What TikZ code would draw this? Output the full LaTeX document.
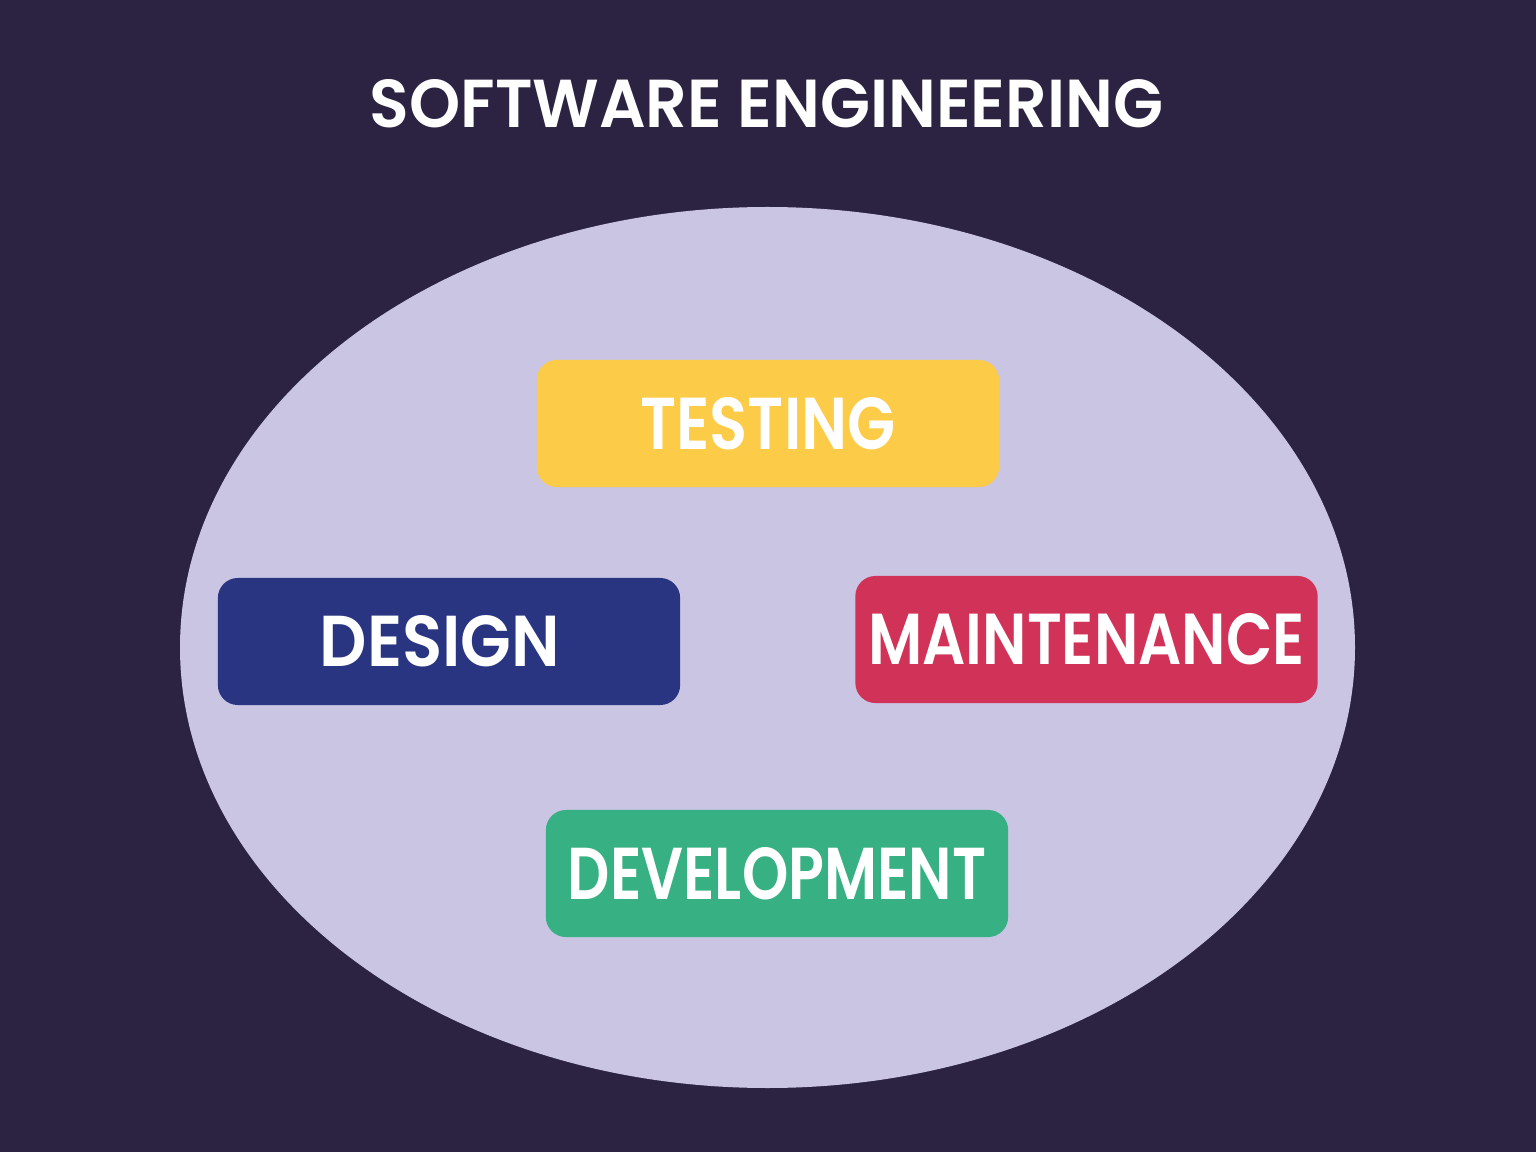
\documentclass[tikz,border=0pt]{standalone}
\usepackage{fontspec}
\setsansfont{Poppins}[BoldFont={Poppins SemiBold}]
\usepackage{graphicx}
\usepackage{tikz}
\usepackage{xcolor}

\definecolor{nightbg}{HTML}{2C2342}
\definecolor{lilac}{HTML}{C9C5E3}
\definecolor{testyellow}{HTML}{FCCB48}
\definecolor{designblue}{HTML}{293580}
\definecolor{maintred}{HTML}{D13257}
\definecolor{devgreen}{HTML}{37B083}

% squeeze a caps label into a given width and cap height
\newcommand{\capsfit}[3]{\resizebox{#1}{#2}{\sffamily\bfseries #3}}

\begin{document}
\begin{tikzpicture}[
            x=0.01cm, y=-0.01cm,
            phase/.style={rounded corners=0.2cm, minimum width=4.62cm,
                minimum height=1.27cm, inner sep=0pt, text=white},
        ]
            \fill[nightbg] (0,0) rectangle (1536,1152);
            \fill[lilac] (767.5,647.5) ellipse [x radius=587.5, y radius=440.5];

            \node[text=white, inner sep=0pt] (title) at (766.5,104)
                {\capsfit{7.93cm}{0.48cm}{SOFTWARE ENGINEERING}};

            \node[phase, fill=testyellow] (testing) at (768,423.5)
                {\capsfit{2.55cm}{0.52cm}{TESTING}};
            \node[phase, fill=designblue] (design) at (449,641.5)
                {\capsfit{2.40cm}{0.51cm}{DESIGN}\hspace*{0.18cm}};
            \node[phase, fill=maintred] (maintenance) at (1086.5,639.5)
                {\capsfit{4.36cm}{0.51cm}{MAINTENANCE}};
            \node[phase, fill=devgreen] (development) at (777,873.5)
                {\capsfit{4.18cm}{0.52cm}{DEVELOPMENT}};
        \end{tikzpicture}
\end{document}
